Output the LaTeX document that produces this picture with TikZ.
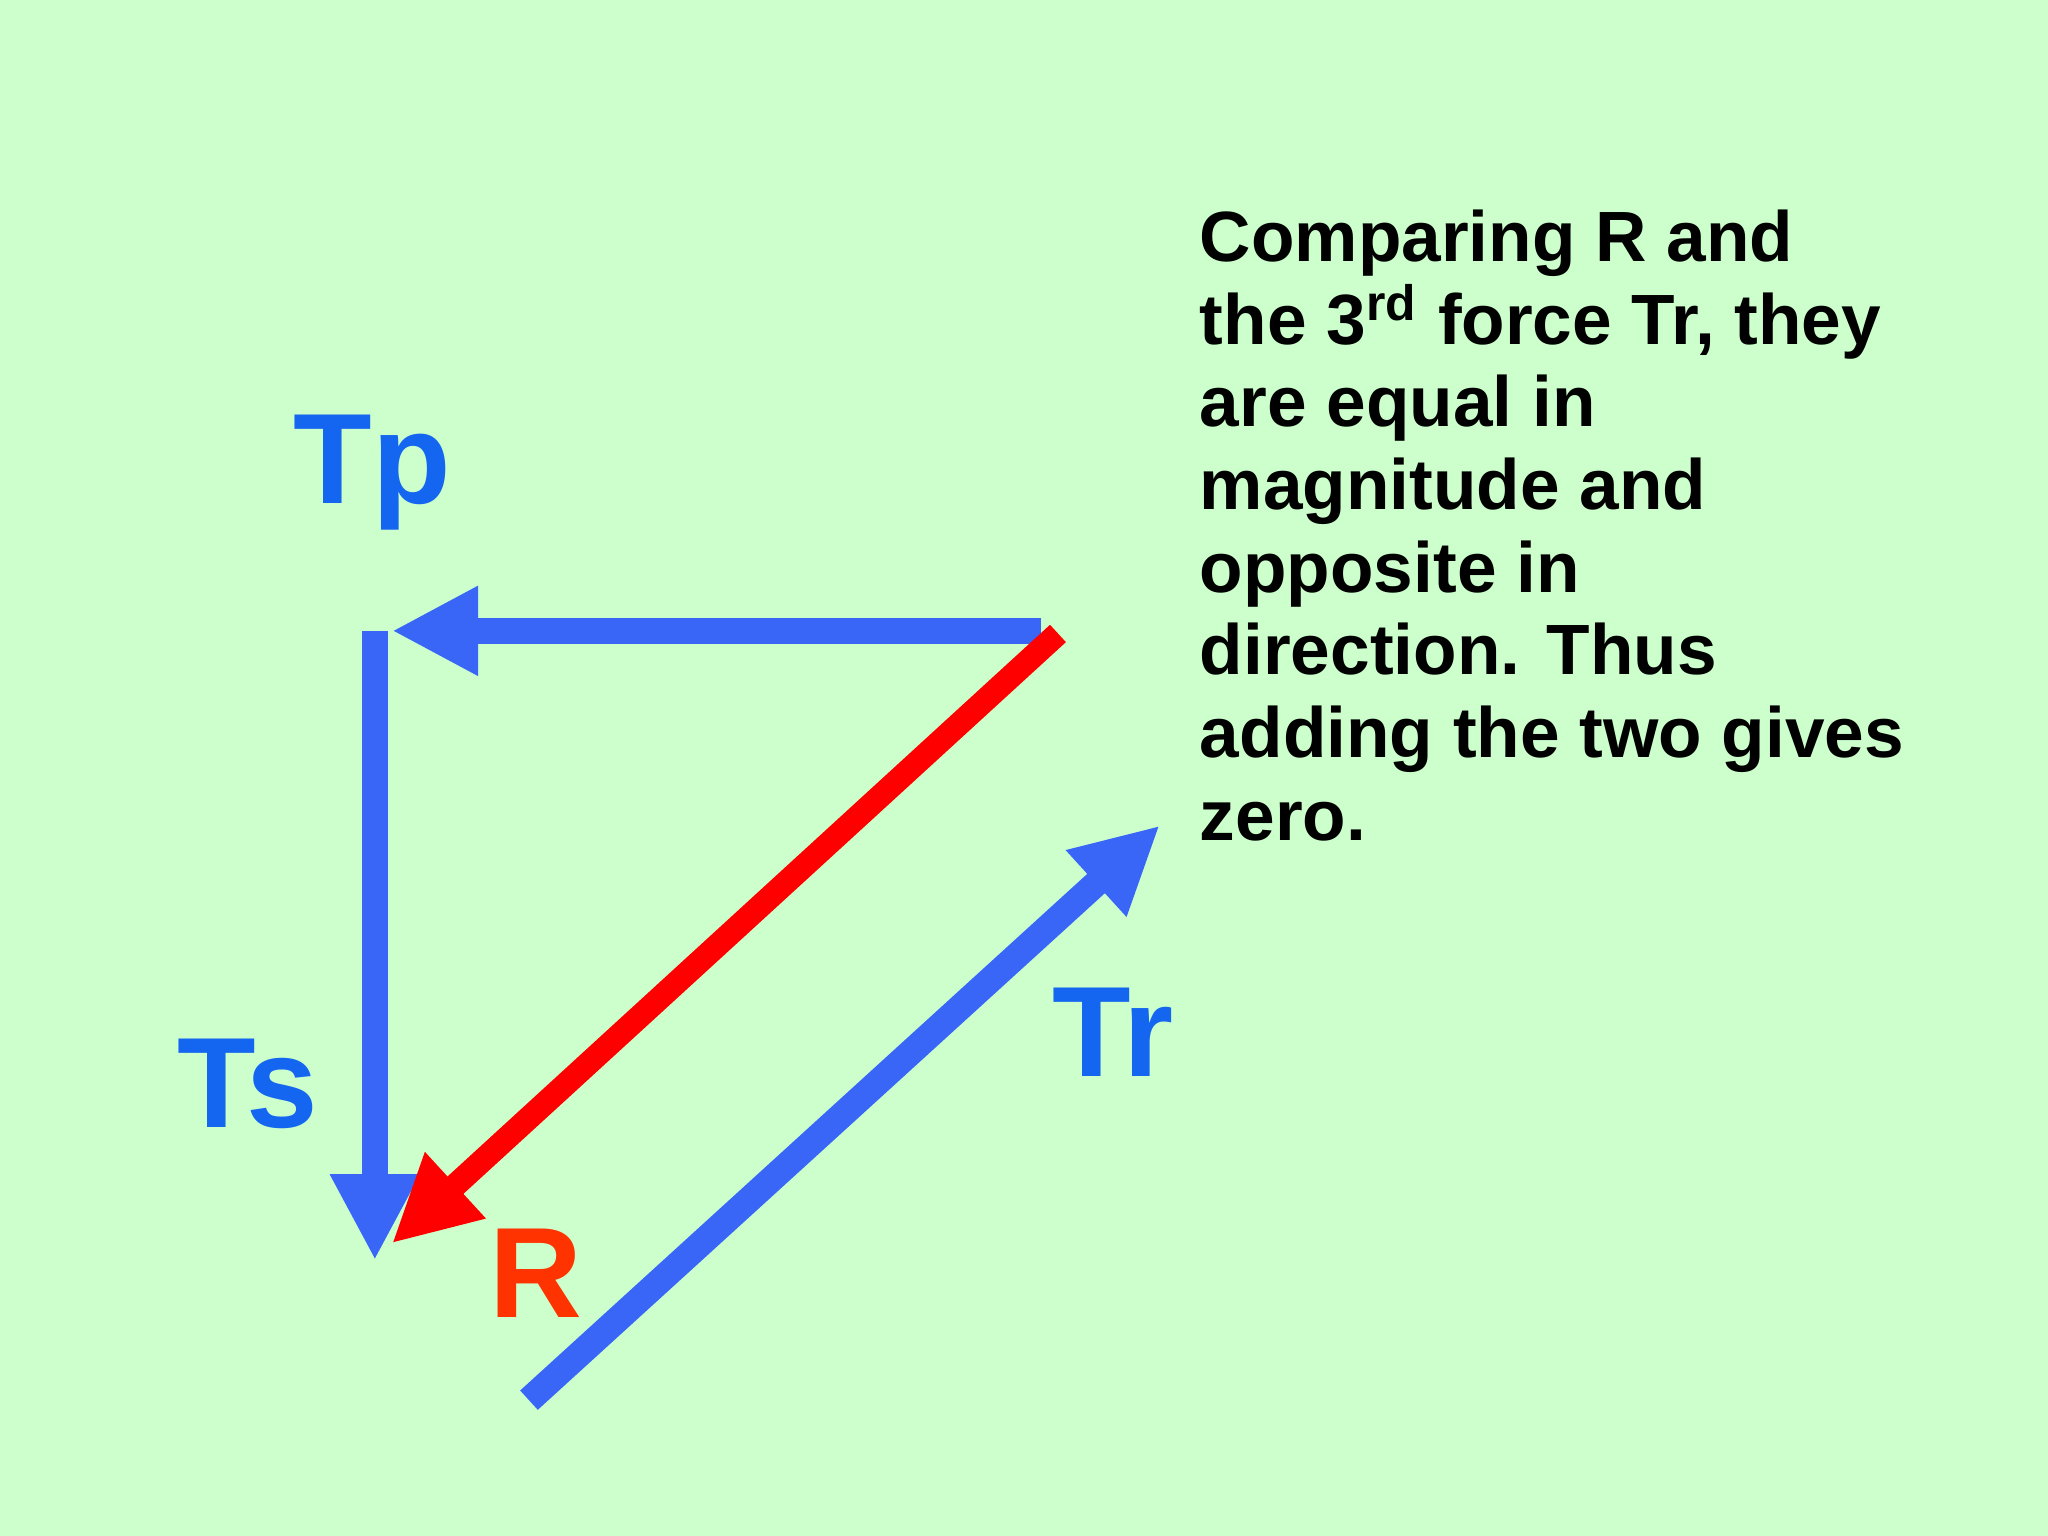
\documentclass[tikz,border=0pt]{standalone}
\usepackage{fontspec}
\setmainfont{Liberation Sans}
\usetikzlibrary{arrows.meta}
\definecolor{bg}{HTML}{CCFFCC}
\definecolor{vblue}{HTML}{3A66F8}
\definecolor{lblue}{HTML}{1466F0}
\definecolor{vred}{HTML}{FF0000}
\definecolor{lred}{HTML}{FF3300}
\begin{document}
\begin{tikzpicture}[x=0.01cm,y=-0.01cm,
  vec/.style={line width=0.2cm,-{Triangle[length=0.66cm,width=0.64cm]}},
  lbl/.style={font=\fontsize{28}{30}\selectfont\bfseries,text=lblue},
  txt/.style={font=\fontsize{15.5}{18}\selectfont\bfseries,align=left,anchor=north west,inner sep=0pt}]
\fill[bg] (0,0) rectangle (1568,1176);
\useasboundingbox (0,0) rectangle (1568,1176);
\coordinate (tpS) at (797,483);
\coordinate (tpE) at (300,483);
\coordinate (tsS) at (287,483);
\coordinate (tsE) at (287,965);
\coordinate (rS) at (810,485);
\coordinate (rE) at (300,952);
\coordinate (trS) at (405,1072);
\coordinate (trE) at (888,632);
\draw[vec,vblue] (tpS) -- (tpE);
\draw[vec,vblue,line cap=butt] (tsS) -- (tsE);
\draw[vec,vblue] (trS) -- (trE);
\draw[vec,vred,line width=0.18cm] (rS) -- (rE);
\node[lbl] (tp) at (285,362) {Tp};
\node[lbl] (ts) at (190,830) {Ts};
\node[lbl,text=lred] (r) at (410,975) {R};
\node[lbl] (tr) at (852,790) {Tr};
\node[txt] (t) at (918,160) {Comparing R and\\the 3\textsuperscript{rd} force Tr, they\\are equal in\\magnitude and\\opposite in\\direction. Thus\\adding the two gives\\zero.};
\end{tikzpicture}
\end{document}
